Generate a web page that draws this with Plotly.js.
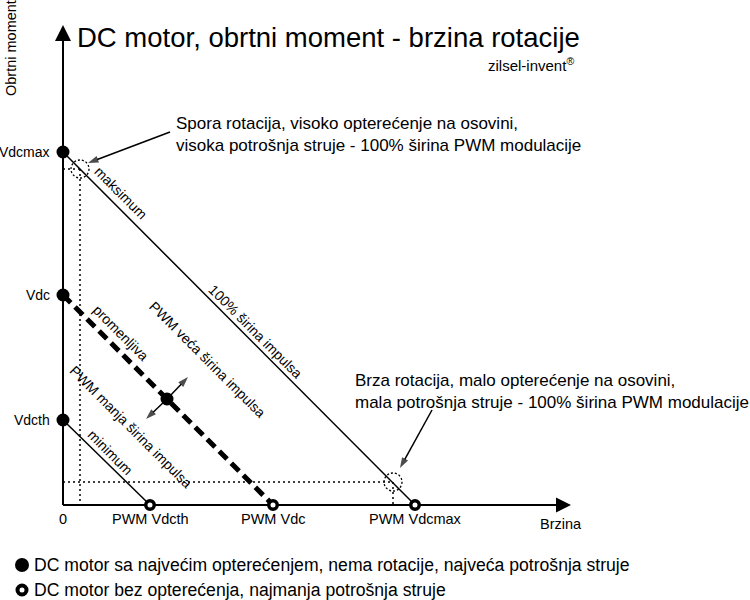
<!DOCTYPE html>
<html><head><meta charset="utf-8">
<script src="https://cdn.plot.ly/plotly-3.0.1.min.js"></script>
<style>html,body{margin:0;padding:0;background:#fff}</style>
</head><body><div id="chart" style="width:750px;height:600px"></div>
<script>
// ---- chart values ----
const speedTicks = [0, 87, 210, 352];
const speedLabels = ['0', 'PWM Vdcth', 'PWM Vdc', 'PWM Vdcmax'];
const torqueTicks = [85, 210, 353];
const torqueLabels = ['Vdcth', 'Vdc', 'Vdcmax'];
const axisEnds = [508, 480];          // speed axis end, torque axis end
const opPoint = [104, 106];           // variable operating point on dashed line
const cornerSpeeds = [17, 330];       // highlighted points on the maximum line
const cornerTorques = [336, 23];
const axisTitles = ['Brzina', 'Obrtni moment'];
const legendTexts = ['DC motor sa najvećim opterećenjem, nema rotacije, najveća potrošnja struje',
                     'DC motor bez opterećenja, najmanja potrošnja struje'];

const FONT = 'Liberation Sans, Arial, sans-serif';
const BLACK = '#000';

const traces = [];
// axes
traces.push({x:[0, axisEnds[0]-8], y:[0,0], mode:'lines', line:{color:BLACK,width:2}});
traces.push({x:[0,0], y:[0, axisEnds[1]-8], mode:'lines', line:{color:BLACK,width:2}});
traces.push({x:[axisEnds[0]], y:[0], mode:'markers', marker:{symbol:'arrow-right', size:15, color:BLACK, line:{width:0}}});
traces.push({x:[0], y:[axisEnds[1]], mode:'markers', marker:{symbol:'arrow-up', size:16, color:BLACK, line:{width:0}}});
// dotted guide lines
const dot = {color:BLACK, width:1.5, dash:'2px,3px'};
traces.push({x:[cornerSpeeds[0], cornerSpeeds[0]], y:[cornerTorques[0], 0], mode:'lines', line:dot});
traces.push({x:[0, cornerSpeeds[0]], y:[cornerTorques[0], cornerTorques[0]], mode:'lines', line:dot});
traces.push({x:[0, cornerSpeeds[1]], y:[cornerTorques[1], cornerTorques[1]], mode:'lines', line:dot});
traces.push({x:[cornerSpeeds[1], cornerSpeeds[1]], y:[cornerTorques[1], 0], mode:'lines', line:dot});
// characteristic lines
traces.push({x:[0, speedTicks[3]], y:[torqueTicks[2], 0], mode:'lines', line:{color:BLACK,width:1.5}});
traces.push({x:[0, speedTicks[1]], y:[torqueTicks[0], 0], mode:'lines', line:{color:BLACK,width:1.5}});
traces.push({x:[0, speedTicks[2]], y:[torqueTicks[1], 0], mode:'lines', line:{color:BLACK,width:5, dash:'11px,6px'}});
// filled dots on torque axis
traces.push({x:torqueTicks.map(()=>0), y:torqueTicks, mode:'markers', marker:{symbol:'circle', size:13, color:BLACK}});
// open dots on speed axis
traces.push({x:speedTicks.slice(1), y:speedTicks.slice(1).map(()=>0), mode:'markers',
  marker:{symbol:'circle', size:8.5, color:'#fff', line:{color:BLACK, width:3.5}}});
// operating point
traces.push({x:[opPoint[0]], y:[opPoint[1]], mode:'markers', marker:{symbol:'circle', size:13, color:BLACK}});
// legend markers
traces.push({x:[-41], y:[-60], mode:'markers', marker:{symbol:'circle', size:14, color:BLACK}});
traces.push({x:[-41], y:[-85], mode:'markers', marker:{symbol:'circle', size:9, color:'#fff', line:{color:BLACK, width:4}}});
// pointer arrows (line + arrow marker oriented along the segment)
function arrow(x, y, ax, ay) {
  traces.push({x:[ax, x], y:[ay, y], mode:'lines+markers', line:{color:BLACK, width:1.5},
    marker:{symbol:'arrow', size:[0, 11], angleref:'previous', color:BLACK, line:{width:0}}});
}
arrow(25, 342, 107, 373);
arrow(337, 37, 369, 95);
arrow(opPoint[0]+21, opPoint[1]+22, opPoint[0], opPoint[1]);
arrow(opPoint[0]-21, opPoint[1]-20, opPoint[0], opPoint[1]);

const ann = [];
function txt(x, y, text, size, opts) {
  ann.push(Object.assign({x:x, y:y, xref:'x', yref:'y', text:text, showarrow:false,
    font:{family:FONT, size:size, color:BLACK}, xanchor:'center', yanchor:'middle'}, opts||{}));
}
// tick labels
torqueLabels.forEach((t,i)=>txt(-11, torqueTicks[i], t, 14, {xanchor:'right'}));
speedLabels.forEach((t,i)=>txt(speedTicks[i], -14, t, 14.5));
txt(498, -19, axisTitles[0], 14.5);
txt(-52, 457, axisTitles[1], 14.5, {textangle:-90});
// subtitle
txt(513, 441, 'zilsel-invent<sup>®</sup>', 15, {xanchor:'right'});
// explanatory notes
txt(111, 371, 'Spora rotacija, visoko opterećenje na osovini,<br>visoka potrošnja struje - 100% širina PWM modulacije', 17, {xanchor:'left', align:'left'});
txt(290, 113.5, 'Brza rotacija, malo opterećenje na osovini,<br>mala potrošnja struje - 100% širina PWM modulacije', 17, {xanchor:'left', align:'left'});
// rotated line labels
txt(58, 312, 'maksimum', 14, {textangle:45});
txt(192, 174, '100% širina impulsa', 14, {textangle:45});
txt(58, 172, 'promenljiva', 14, {textangle:45});
txt(144, 146, 'PWM veća širina impulsa', 14, {textangle:45});
txt(68, 78, 'PWM manja širina impulsa', 14, {textangle:45});
txt(47, 53, 'minimum', 14, {textangle:45});
// legend texts
txt(-31, -60, legendTexts[0], 17.6, {xanchor:'left'});
txt(-31, -85, legendTexts[1], 17.6, {xanchor:'left'});

const shapes = cornerSpeeds.map((s,i)=>({type:'circle', xref:'x', yref:'y',
  x0:s-9, x1:s+9, y0:cornerTorques[i]-9, y1:cornerTorques[i]+9,
  line:{color:BLACK, width:1.3, dash:'2px,2px'}}));

const layout = {
  width:750, height:600, margin:{l:0,r:0,t:0,b:0},
  paper_bgcolor:'#fff', plot_bgcolor:'#fff', showlegend:false,
  title:{text:'DC motor, obrtni moment - brzina rotacije', font:{family:FONT, size:27.5, color:BLACK},
    x:77/750, xanchor:'left', xref:'paper', y:1-37/600, yanchor:'middle', yref:'paper'},
  xaxis:{range:[-63,687], visible:false, fixedrange:true},
  yaxis:{range:[-95,505], visible:false, fixedrange:true},
  annotations:ann, shapes:shapes
};
Plotly.newPlot('chart', traces, layout, {displayModeBar:false, staticPlot:true});
</script></body></html>
